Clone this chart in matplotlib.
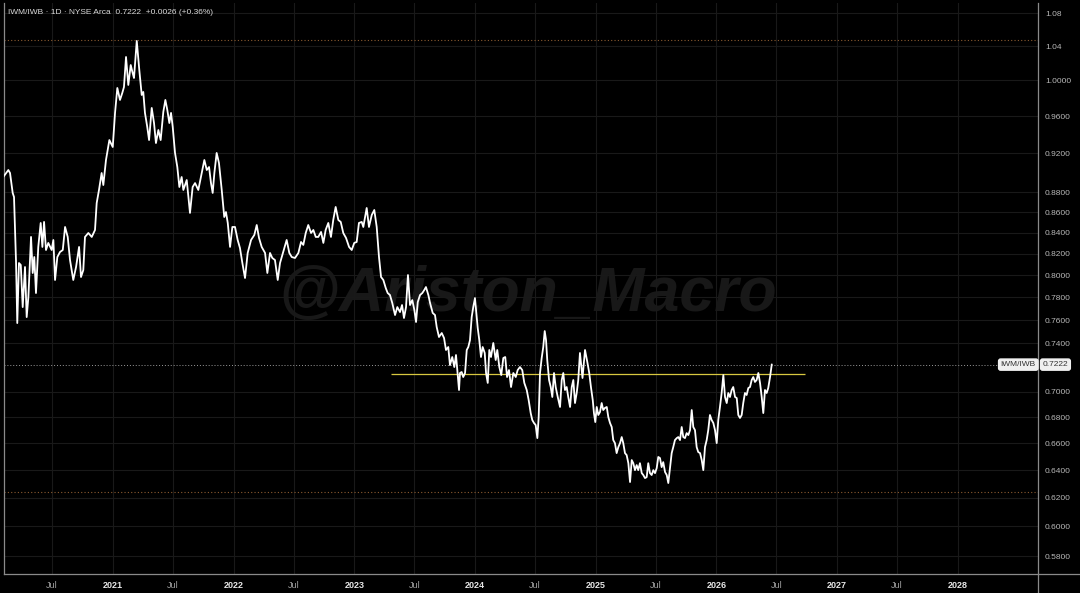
import numpy as np
import matplotlib
matplotlib.use("Agg")
import matplotlib.pyplot as plt
from matplotlib.ticker import FixedLocator, NullLocator
from matplotlib.lines import Line2D

plt.rcParams['font.family'] = ['Liberation Sans', 'DejaVu Sans']

# time as decimal year, ratio IWM/IWB
t = [2020.091, 2020.133, 2020.147, 2020.169, 2020.180, 2020.197, 2020.207, 2020.221, 2020.236, 2020.252,
     2020.271, 2020.285, 2020.299, 2020.321, 2020.335, 2020.348, 2020.362, 2020.381, 2020.401, 2020.415,
     2020.429, 2020.445, 2020.464, 2020.492, 2020.506, 2020.520, 2020.539, 2020.561, 2020.584, 2020.603,
     2020.625, 2020.644, 2020.671, 2020.694, 2020.719, 2020.735, 2020.754, 2020.768, 2020.796, 2020.824,
     2020.851, 2020.865, 2020.884, 2020.906, 2020.920, 2020.942, 2020.970, 2020.998, 2021.017, 2021.036,
     2021.058, 2021.077, 2021.091, 2021.108, 2021.127, 2021.147, 2021.163, 2021.174, 2021.197, 2021.218,
     2021.238, 2021.251, 2021.265, 2021.284, 2021.299, 2021.321, 2021.340, 2021.356, 2021.376, 2021.395,
     2021.417, 2021.434, 2021.450, 2021.467, 2021.481, 2021.495, 2021.514, 2021.533, 2021.550, 2021.569,
     2021.583, 2021.611, 2021.638, 2021.660, 2021.680, 2021.707,
     2021.757, 2021.777, 2021.796, 2021.812, 2021.826, 2021.840, 2021.859, 2021.878, 2021.901, 2021.922,
     2021.936, 2021.951, 2021.970, 2021.989, 2022.011, 2022.033, 2022.052, 2022.072, 2022.094, 2022.116,
     2022.144, 2022.171, 2022.191, 2022.210, 2022.232, 2022.260, 2022.279, 2022.301, 2022.320, 2022.342,
     2022.365, 2022.384, 2022.403, 2022.439, 2022.461, 2022.481, 2022.508, 2022.536, 2022.558, 2022.577,
     2022.597, 2022.618, 2022.641, 2022.660, 2022.680, 2022.701, 2022.724, 2022.743, 2022.762, 2022.784,
     2022.806, 2022.825, 2022.845, 2022.867, 2022.887, 2022.908, 2022.931, 2022.956, 2022.978, 2022.999,
     2023.019, 2023.038, 2023.061, 2023.074, 2023.102, 2023.121, 2023.144, 2023.165, 2023.185, 2023.204,
     2023.221, 2023.240, 2023.260, 2023.276, 2023.295, 2023.314,
     2023.337, 2023.356, 2023.378, 2023.395, 2023.411, 2023.428, 2023.444, 2023.461, 2023.480, 2023.497,
     2023.511, 2023.525, 2023.544, 2023.563, 2023.579, 2023.593, 2023.613, 2023.627, 2023.649, 2023.668,
     2023.682, 2023.701, 2023.724, 2023.743, 2023.759, 2023.778, 2023.792, 2023.811, 2023.828, 2023.842,
     2023.853, 2023.867, 2023.875, 2023.889, 2023.902, 2023.917, 2023.931, 2023.944, 2023.958, 2023.972,
     2023.985, 2023.999, 2024.014, 2024.022, 2024.035, 2024.049, 2024.063, 2024.080, 2024.091, 2024.105,
     2024.118, 2024.132, 2024.151, 2024.171, 2024.184, 2024.201, 2024.217, 2024.234, 2024.250, 2024.265,
     2024.281, 2024.298, 2024.317, 2024.337, 2024.353, 2024.372, 2024.391, 2024.408, 2024.428, 2024.444,
     2024.461, 2024.474, 2024.488, 2024.502, 2024.516, 2024.527, 2024.538, 2024.552, 2024.565, 2024.577,
     2024.588, 2024.598, 2024.613, 2024.627, 2024.640, 2024.654, 2024.668, 2024.685, 2024.704, 2024.718,
     2024.731, 2024.745, 2024.759, 2024.772, 2024.787, 2024.801, 2024.814, 2024.828, 2024.842, 2024.855,
     2024.869, 2024.890, 2024.911, 2024.930, 2024.946, 2024.960, 2024.975, 2024.985, 2024.996, 2025.008,
     2025.021, 2025.035, 2025.049, 2025.062, 2025.076, 2025.091, 2025.104, 2025.118, 2025.132, 2025.145,
     2025.159, 2025.173, 2025.187, 2025.201, 2025.215, 2025.228, 2025.242, 2025.256, 2025.270, 2025.284,
     2025.298, 2025.311, 2025.325, 2025.339, 2025.352, 2025.366, 2025.381, 2025.394, 2025.408, 2025.422,
     2025.435, 2025.449, 2025.463, 2025.477, 2025.491, 2025.505, 2025.518, 2025.532, 2025.546, 2025.559,
     2025.574, 2025.588, 2025.601, 2025.615, 2025.629, 2025.642, 2025.656, 2025.671, 2025.684, 2025.698,
     2025.712, 2025.725, 2025.739, 2025.753, 2025.767, 2025.781, 2025.795, 2025.808, 2025.822, 2025.836,
     2025.849, 2025.864, 2025.878, 2025.891, 2025.905, 2025.919, 2025.932, 2025.946, 2025.960, 2025.974,
     2025.988, 2026.002, 2026.015, 2026.029, 2026.043, 2026.057, 2026.071, 2026.085, 2026.098, 2026.112,
     2026.126, 2026.139, 2026.154, 2026.168, 2026.181, 2026.195, 2026.209, 2026.222, 2026.236, 2026.250,
     2026.264, 2026.278, 2026.292, 2026.305, 2026.319, 2026.333, 2026.347, 2026.361, 2026.375, 2026.388,
     2026.402, 2026.416, 2026.429, 2026.444, 2026.458]

iwm_iwb = [0.8953, 0.9025, 0.8994, 0.8791, 0.8750, 0.8113, 0.7574, 0.8113, 0.8095, 0.7714,
           0.8076, 0.7626, 0.7803, 0.8359, 0.8021, 0.8169, 0.7839, 0.8264, 0.8494, 0.8264,
           0.8504, 0.8235, 0.8302, 0.8235, 0.8330, 0.7957, 0.8169, 0.8216, 0.8235, 0.8455,
           0.8359, 0.8141, 0.7957, 0.8076, 0.8264, 0.7984, 0.8048, 0.8359, 0.8397, 0.8359,
           0.8426, 0.8690, 0.8821, 0.8994, 0.8871, 0.9129, 0.9340, 0.9266, 0.9635, 0.9914,
           0.9779, 0.9857, 0.9925, 1.0272, 0.9948, 1.0178, 1.0085, 1.0028, 1.0463, 1.0120,
           0.9835, 0.9869, 0.9635, 0.9481, 0.9340, 0.9690, 0.9524, 0.9308, 0.9448, 0.9340,
           0.9646, 0.9779, 0.9668, 0.9524, 0.9635, 0.9481, 0.9203, 0.9056, 0.8851, 0.8953,
           0.8821, 0.8922, 0.8592, 0.8851, 0.8891, 0.8821,
           0.9129, 0.9025, 0.9056, 0.8891, 0.8791, 0.8994, 0.9203, 0.9098, 0.8821, 0.8552,
           0.8601, 0.8494, 0.8264, 0.8455, 0.8455, 0.8330, 0.8254, 0.8113, 0.7975, 0.8207,
           0.8330, 0.8378, 0.8474, 0.8349, 0.8264, 0.8207, 0.8021, 0.8207, 0.8160, 0.8141,
           0.7957, 0.8113, 0.8188, 0.8330, 0.8207, 0.8169, 0.8160, 0.8207, 0.8311, 0.8283,
           0.8397, 0.8474, 0.8397, 0.8426, 0.8359, 0.8359, 0.8407, 0.8302, 0.8426, 0.8494,
           0.8359, 0.8523, 0.8651, 0.8523, 0.8504, 0.8397, 0.8349, 0.8264, 0.8235, 0.8302,
           0.8311, 0.8494, 0.8504, 0.8455, 0.8641, 0.8455, 0.8572, 0.8621, 0.8455, 0.8169,
           0.7984, 0.7957, 0.7884, 0.7839, 0.7821, 0.7750,
           0.7644, 0.7714, 0.7670, 0.7732, 0.7618, 0.7714, 0.8002, 0.7732, 0.7776, 0.7688,
           0.7583, 0.7758, 0.7821, 0.7839, 0.7866, 0.7893, 0.7821, 0.7750, 0.7662, 0.7644,
           0.7540, 0.7454, 0.7488, 0.7445, 0.7344, 0.7369, 0.7218, 0.7285, 0.7202, 0.7302,
           0.7177, 0.7015, 0.7153, 0.7161, 0.7120, 0.7153, 0.7344, 0.7369, 0.7428, 0.7626,
           0.7714, 0.7794, 0.7626, 0.7531, 0.7428, 0.7285, 0.7369, 0.7319, 0.7153, 0.7072,
           0.7344, 0.7285, 0.7403, 0.7260, 0.7344, 0.7202, 0.7136, 0.7277, 0.7285, 0.7120,
           0.7177, 0.7039, 0.7153, 0.7120, 0.7177, 0.7202, 0.7177, 0.7072, 0.7015, 0.6935,
           0.6832, 0.6778, 0.6755, 0.6739, 0.6639, 0.6801, 0.7153, 0.7277, 0.7369, 0.7505,
           0.7428, 0.7260, 0.7096, 0.7039, 0.6959, 0.7153, 0.7039, 0.6959, 0.6880, 0.7096,
           0.7153, 0.7015, 0.7039, 0.6959, 0.6880, 0.7039, 0.7096, 0.6911, 0.6991, 0.7096,
           0.7319, 0.7112, 0.7344, 0.7243, 0.7153, 0.7039, 0.6935, 0.6832, 0.6762, 0.6880,
           0.6817, 0.6840, 0.6911, 0.6856, 0.6872, 0.6880, 0.6801, 0.6755, 0.6724, 0.6624,
           0.6601, 0.6526, 0.6571, 0.6601, 0.6647, 0.6601, 0.6526, 0.6511, 0.6451, 0.6313,
           0.6474, 0.6451, 0.6400, 0.6437, 0.6400, 0.6451, 0.6378, 0.6364, 0.6342, 0.6349,
           0.6451, 0.6378, 0.6364, 0.6400, 0.6378, 0.6415, 0.6497, 0.6489, 0.6422, 0.6459,
           0.6386, 0.6364, 0.6306, 0.6415, 0.6526, 0.6571, 0.6624, 0.6639, 0.6647, 0.6624,
           0.6724, 0.6647, 0.6639, 0.6677, 0.6662, 0.6700, 0.6856, 0.6724, 0.6700, 0.6571,
           0.6534, 0.6526, 0.6474, 0.6400, 0.6571, 0.6624, 0.6700, 0.6817, 0.6778, 0.6755,
           0.6700, 0.6601, 0.6778, 0.6880, 0.6991, 0.7136, 0.6959, 0.6911, 0.6991, 0.6959,
           0.7015, 0.7039, 0.6959, 0.6951, 0.6817, 0.6794, 0.6817, 0.6911, 0.6991, 0.6975,
           0.7031, 0.7039, 0.7096, 0.7120, 0.7080, 0.7096, 0.7153, 0.7072, 0.6959, 0.6832,
           0.7015, 0.6991, 0.7031, 0.7120, 0.7222]

last_price = 0.7222
resistance = 0.7145
resistance_span = [2023.30, 2026.73]
hi_level = 1.0475
lo_level = 0.624

y_ticks = [1.08, 1.04, 1.00, 0.96, 0.92, 0.88, 0.86, 0.84, 0.82, 0.80, 0.78, 0.76, 0.74,
           0.70, 0.68, 0.66, 0.64, 0.62, 0.60, 0.58]
y_labels = ['1.08', '1.04', '1.0000', '0.9600', '0.9200', '0.8800', '0.8600', '0.8400', '0.8200',
            '0.8000', '0.7800', '0.7600', '0.7400', '0.7000', '0.6800', '0.6600', '0.6400',
            '0.6200', '0.6000', '0.5800']
x_ticks = [2020.496, 2021, 2021.496, 2022, 2022.496, 2023, 2023.496, 2024, 2024.496, 2025,
           2025.496, 2026, 2026.496, 2027, 2027.496, 2028]
x_labels = ['Jul', '2021', 'Jul', '2022', 'Jul', '2023', 'Jul', '2024', 'Jul', '2025',
            'Jul', '2026', 'Jul', '2027', 'Jul', '2028']

fig = plt.figure(figsize=(10.8, 5.93), dpi=100, facecolor='black')
ax = fig.add_axes([0.0037, 0.032, 0.9574, 0.9629], facecolor='black')

ax.set_yscale('log')
ax.set_xlim(2020.097, 2028.664)
ax.set_ylim(0.5682, 1.0927)

# watermark
ax.text(0.507, 0.49, '@Ariston_Macro', transform=ax.transAxes, ha='center', va='center',
        fontsize=45, fontweight='bold', style='italic', color='#181818', zorder=0)

ax.plot(t, iwm_iwb, color='white', lw=1.3, zorder=4)

ax.axhline(hi_level, color='#8a5a30', lw=0.8, ls=(0, (1, 2)), zorder=2)
ax.axhline(lo_level, color='#8a5a30', lw=0.8, ls=(0, (1, 2)), zorder=2)
ax.axhline(last_price, color='#9a9a9a', lw=0.7, ls=(0, (1, 2)), zorder=2)
ax.hlines(resistance, resistance_span[0], resistance_span[1], color='#d8c840', lw=0.9, zorder=3)

ax.yaxis.set_major_locator(FixedLocator(y_ticks))
ax.yaxis.set_minor_locator(NullLocator())
ax.set_yticklabels(y_labels)
ax.yaxis.tick_right()
ax.tick_params(axis='y', length=0, pad=5, labelsize=6, labelcolor='#b8b8b8')

ax.set_xticks(x_ticks)
ax.set_xticklabels(x_labels)
ax.tick_params(axis='x', length=0, pad=5, labelsize=6.5, labelcolor='#a0a0a0')
for lab in ax.get_xticklabels():
    if lab.get_text() != 'Jul':
        lab.set_fontweight('bold')
        lab.set_color('#e6e6e6')

ax.grid(True, color='#191919', lw=0.8)
ax.set_axisbelow(True)

for s in ['left', 'right', 'bottom']:
    ax.spines[s].set_color('#8a8a8a')
    ax.spines[s].set_linewidth(0.9)
ax.spines['top'].set_visible(False)

# axis lines running into the scale areas
fig.add_artist(Line2D([0.9611, 0.9611], [0, 0.032], color='#8a8a8a', lw=0.9))
fig.add_artist(Line2D([0.9611, 1.0], [0.032, 0.032], color='#8a8a8a', lw=0.9))

# last price labels
ax.text(0.998, last_price, 'IWM/IWB', transform=ax.get_yaxis_transform(), ha='right', va='center',
        fontsize=6, color='#333333',
        bbox=dict(boxstyle='round,pad=0.25', fc='#f0f0f0', ec='#f0f0f0'), zorder=6)
ax.text(1.0045, last_price, '0.7222', transform=ax.get_yaxis_transform(), ha='left', va='center',
        fontsize=6, color='#333333',
        bbox=dict(boxstyle='round,pad=0.25', fc='#f0f0f0', ec='#f0f0f0'), zorder=6, clip_on=False)

fig.text(8 / 1080, 1 - 12 / 593, 'IWM/IWB · 1D · NYSE Arca  0.7222  +0.0026 (+0.36%)',
         ha='left', va='center', fontsize=6, color='#d8d8d8')

fig.savefig('out.png', dpi=100, facecolor='black')
